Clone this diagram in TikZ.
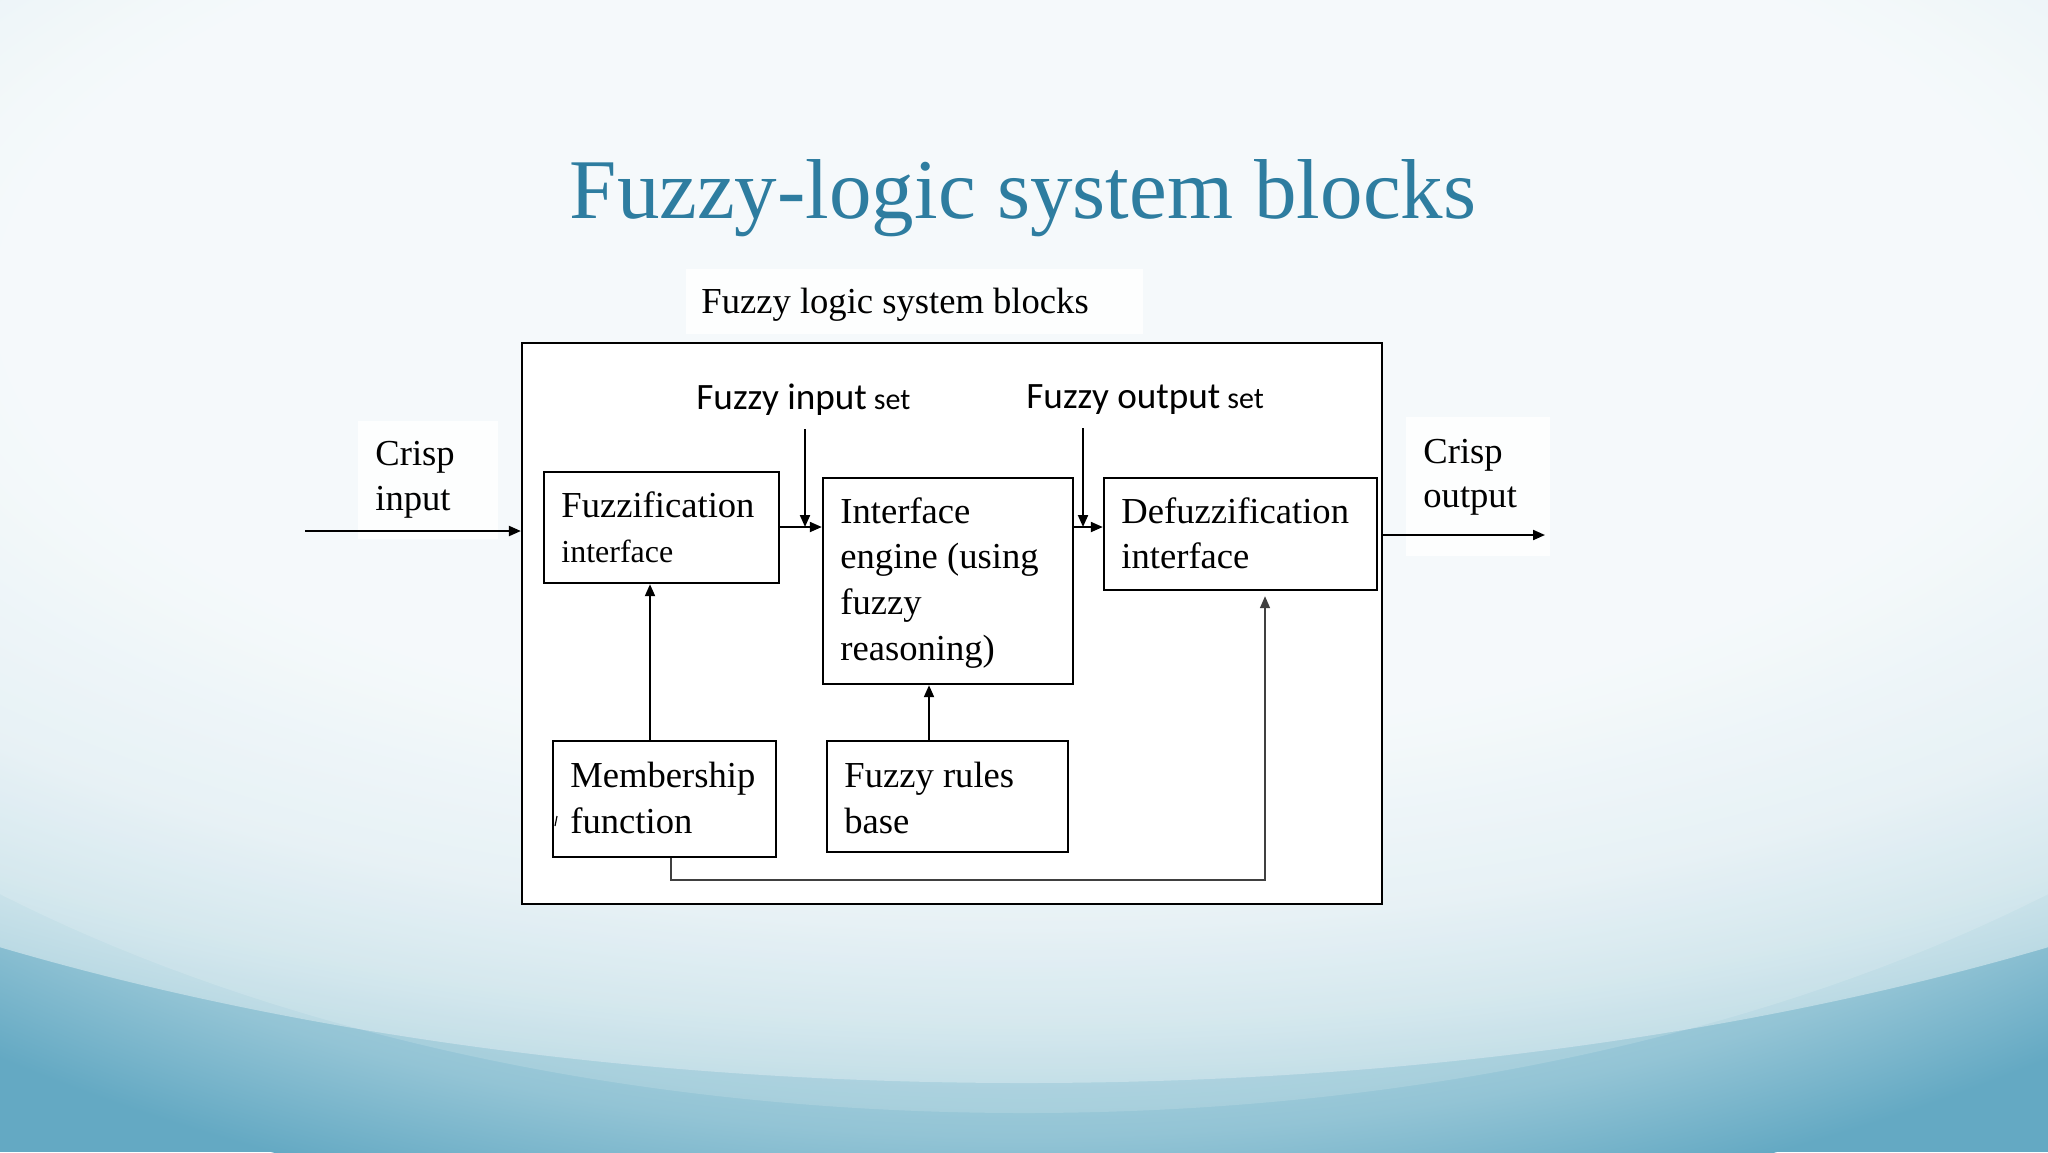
\documentclass[tikz,border=0pt]{standalone}
\usepackage{fontspec}
\setmainfont{Liberation Serif}
\newfontfamily\calibrifont{Carlito}
\usetikzlibrary{arrows.meta}
\definecolor{titleblue}{HTML}{2E7DA0}
\definecolor{bgtop}{HTML}{F4F9FB}
\definecolor{bgw2}{HTML}{E3EFF4}
\definecolor{bgw3}{HTML}{CFE5EC}
\definecolor{bgw4}{HTML}{BBDAE4}
\definecolor{bo1}{HTML}{C8E2EA}
\definecolor{bo2}{HTML}{B5D8E3}
\definecolor{bo3}{HTML}{93C4D5}
\definecolor{teal1}{HTML}{64A9C3}
\pgfdeclareradialshading{innerglow}{\pgfpoint{0bp}{0bp}}{color(0bp)=(bgtop); color(14bp)=(bgtop); color(20bp)=(bgw2); color(23bp)=(bgw3); color(25bp)=(bgw4); color(50bp)=(bgw4)}
\pgfdeclareradialshading{outerglow}{\pgfpoint{0bp}{0bp}}{color(0bp)=(bo1); color(18bp)=(bo2); color(22bp)=(bo3); color(25bp)=(teal1); color(50bp)=(teal1)}
\newcommand\bx{\fontsize{18.3pt}{22.5pt}\selectfont}
\newcommand\bxs{\fontsize{16pt}{20pt}\selectfont}
\begin{document}
\begin{tikzpicture}[x=0.5pt,y=-0.5pt,
  blk/.style={draw=black,line width=1.2pt,fill=white,inner sep=0pt},
  lbl/.style={anchor=base west,inner sep=0pt,font=\bx},
  wbg/.style={fill=white,fill opacity=0.85,inner sep=0pt,draw=none},
  arr/.style={line width=1pt,-{Triangle[length=6pt,width=5pt]}},
  ]
\useasboundingbox (0,0) rectangle (2048,1152);
% background
\fill[teal1] (0,0) rectangle (2048,1152);
\shade[shading=outerglow] (1024,300) ellipse [x radius=850pt, y radius=475pt];
\shade[shading=innerglow] (1024,300) ellipse [x radius=909.5pt, y radius=391.5pt];
\fill[white,opacity=0.15] (1024,300) ellipse [x radius=750pt, y radius=406.5pt];

% title
\node[anchor=base,inner sep=0pt,text=titleblue,font=\fontsize{42.5pt}{50pt}\selectfont] (title) at (1023,218) {Fuzzy-logic system blocks};

% white label backgrounds
\node[wbg,minimum width=228.5pt,minimum height=32.5pt] (subbg) at (914.5,301.5) {};
\node[lbl] (subtitle) at (701,313) {Fuzzy logic system blocks};
\node[wbg,minimum width=70pt,minimum height=59pt] (cinbg) at (428,480) {};
\node[wbg,minimum width=72pt,minimum height=69.5pt] (coutbg) at (1478,486.5) {};

% outer box
\node[blk,line width=1.1pt,minimum width=430pt,minimum height=280.5pt] (outer) at (952,623.5) {};

% blocks
\node[blk,minimum width=117.5pt,minimum height=55.5pt] (fuzz) at (661.5,527.5) {};
\node[blk,minimum width=125pt,minimum height=103pt] (eng) at (948,581) {};
\node[blk,minimum width=136.5pt,minimum height=56pt] (def) at (1240.5,534) {};
\node[blk,minimum width=111.5pt,minimum height=58pt] (mem) at (664.5,799) {};
\node[blk,minimum width=120.5pt,minimum height=55.5pt] (rules) at (947.5,796.5) {};

% texts
\node[lbl] (cin1) at (375,465) {Crisp};
\node[lbl] (cin2) at (375,510) {input};
\node[lbl] (cout1) at (1423,463) {Crisp};
\node[lbl] (cout2) at (1423,507) {output};
\node[lbl] (fz1) at (561,517) {Fuzzification};
\node[lbl,font=\bxs] (fz2) at (561,562) {interface};
\node[lbl] (en1) at (840,523) {Interface};
\node[lbl] (en2) at (840,568) {engine (using};
\node[lbl] (en3) at (840,614) {fuzzy};
\node[lbl] (en4) at (840,660) {reasoning)};
\node[lbl] (df1) at (1121,523) {Defuzzification};
\node[lbl] (df2) at (1121,568) {interface};
\node[lbl] (mb1) at (570,787) {Membership};
\node[lbl] (mb2) at (570,833) {function};
\node[lbl] (rb1) at (844,787) {Fuzzy rules};
\node[lbl] (rb2) at (844,833) {base};
\node[lbl,font=\calibrifont\fontsize{18.6pt}{22pt}\selectfont] (fis) at (696,409) {Fuzzy input\fontsize{15pt}{18pt}\selectfont{} set};
\node[lbl,font=\calibrifont\fontsize{18.6pt}{22pt}\selectfont] (fos) at (1026,408) {Fuzzy output\fontsize{15pt}{18pt}\selectfont{} set};

% helper coordinates
\coordinate (ym) at (0,527);
\coordinate (cin) at (305,531);
\coordinate (cout) at (1545,535);
\coordinate (fin) at (805,429);
\coordinate (fout) at (1083,428);
\coordinate (xm) at (650,0);
\coordinate (xr) at (929,0);
\coordinate (xf1) at (671,0);
\coordinate (xf2) at (1265,0);
\coordinate (fb1) at (671,880);
\coordinate (fb2) at (1265,880);

% connectors
\draw[arr] (cin) -- (cin -| outer.west);
\draw[arr] (outer.east |- cout) -- (cout);
\draw[arr] (fuzz.east |- ym) -- (eng.west |- ym);
\draw[arr] (eng.east |- ym) -- (def.west |- ym);
\draw[arr] (fin) -- (fin |- ym);
\draw[arr] (fout) -- (fout |- ym);
\draw[arr] (mem.north -| xm) -- (fuzz.south -| xm);
\draw[arr] (rules.north -| xr) -- (eng.south -| xr);
\draw[arr,line width=0.8pt,draw=black!75,shorten >=2.5pt] (mem.south -| xf1) -- (fb1) -- (fb2) -- (def.south -| xf2);
\draw[line width=0.6pt] (555,826) -- (557,816);
\end{tikzpicture}
\end{document}
